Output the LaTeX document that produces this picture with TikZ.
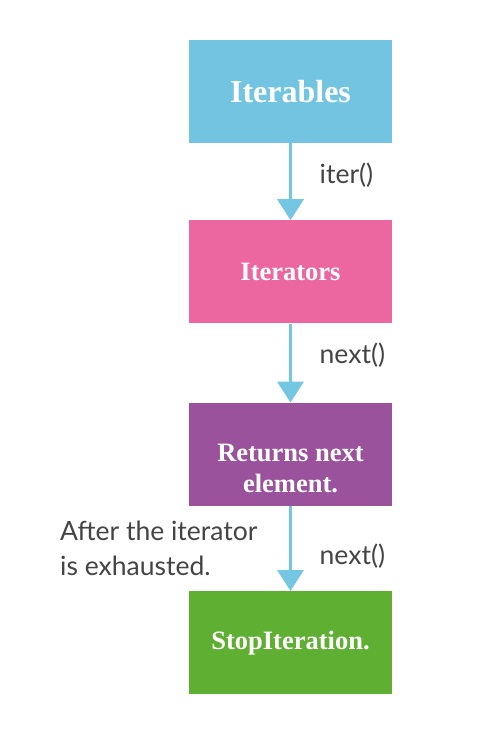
\documentclass[tikz,border=0pt]{standalone}
\usepackage{fontspec}
\setmainfont{Liberation Serif}
\newfontfamily\notefont{Lato}
\usetikzlibrary{positioning,calc,arrows.meta}

\definecolor{iterblue}{HTML}{72C4E1}
\definecolor{iterpink}{HTML}{EC67A0}
\definecolor{iterpurple}{HTML}{9B529C}
\definecolor{itergreen}{HTML}{5FAF32}
\definecolor{flowblue}{HTML}{74C6E2}
\definecolor{notegray}{HTML}{444444}

\begin{document}
\begin{tikzpicture}[x=1pt,y=1pt,
         box/.style = {rectangle, minimum width=203pt, minimum height=103pt,
         inner sep=0pt, text=white, align=center,
         font=\bfseries\fontsize{26.5}{31}\selectfont},
         flow/.style = {draw=flowblue, line width=3.5pt,
         -{Triangle[width=26pt,length=21pt]}},
         note/.style = {text=notegray, inner sep=0pt, align=left,
         font=\notefont\fontsize{26.5}{35}\selectfont}
]
         \useasboundingbox (0,0) rectangle (500,-732);

         % the four steps
         \node[box, fill=iterblue, font=\bfseries\fontsize{32}{36}\selectfont]
            (iterables) at (290.5,-91.5) {Iterables};
         \node[box, fill=iterpink, below=77pt of iterables]   (iterators) {Iterators};
         \node[box, fill=iterpurple, below=79pt of iterators] (returns) {};
         \node[box, fill=itergreen, below=85pt of returns]    (stop) {StopIteration.};

         % text of the third box sits a bit low
         \node[box, minimum width=0pt, minimum height=0pt]
            (returnstxt) at ($(returns.center)+(0,-14)$) {Returns next\\element.};

         % arrows
         \draw[flow] (iterables.south) -- (iterators.north);
         \draw[flow] (iterators.south) -- (returns.north);
         \draw[flow] (returns.south)   -- (stop.north);

         % labels
         \node[note, anchor=west] (iterlbl)  at ($(iterables.south)+(29,-32)$) {iter()};
         \node[note, anchor=west] (nextlbl)  at ($(iterators.south)+(29,-32)$) {next()};
         \node[note, anchor=west] (stoplbl)  at ($(returns.south)+(29,-50)$)   {next()};
         \node[note, anchor=north west] (exhaust) at (60,-521)
            {After the iterator\\is exhausted.};
\end{tikzpicture}
\end{document}
